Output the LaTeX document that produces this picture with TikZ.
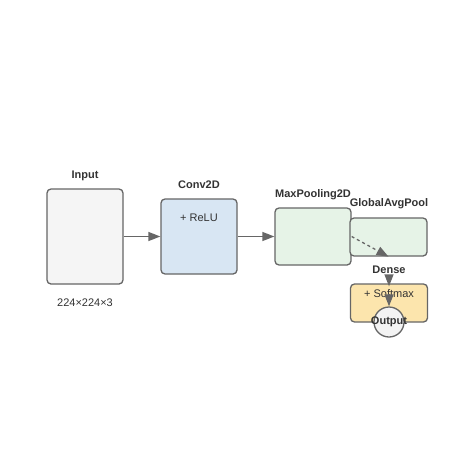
\documentclass[tikz,border=0pt]{standalone}
\usepackage{fontspec}
\setmainfont{Liberation Sans}
\usepackage{tikz}
\usetikzlibrary{arrows.meta}

\definecolor{edge}{HTML}{666666}
\definecolor{inputfill}{HTML}{F5F5F5}
\definecolor{convfill}{HTML}{D8E6F3}
\definecolor{poolfill}{HTML}{E6F3E7}
\definecolor{densefill}{HTML}{FCE5AD}
\definecolor{outfill}{HTML}{F3F3F3}

\tikzset{
  layer/.style={draw=edge, line width=1.3pt, rounded corners=4pt, inner sep=0pt},
  title/.style={font=\fontsize{11}{13}\selectfont\bfseries, text=black!80},
  txt/.style={font=\fontsize{11}{13}\selectfont, text=black!80},
  arr/.style={draw=edge, line width=1.3pt, -{Triangle[length=12pt,width=9pt]}}
}

\begin{document}
\begin{tikzpicture}[x=1pt, y=-1pt]
      \useasboundingbox[fill=white] (0,0) rectangle (474,474);

       % input
      \node[layer, fill=inputfill, minimum width=76pt, minimum height=95pt] (input) at (85,236.5) {};
      \node[title] (inlbl) at (85,176) {Input};
      \node[txt] (shape) at (85,303) {224×224×3};

       % conv
      \node[layer, fill=convfill, minimum width=76pt, minimum height=75pt] (conv) at (199,236.5) {};
      \node[title] (convlbl) at (199,185) {Conv2D};
      \node[txt] (relu) at (199,218) {+ ReLU};

       % pooling
      \node[layer, fill=poolfill, minimum width=76pt, minimum height=57pt] (pool) at (313,236.5) {};
      \node[title] (poollbl) at (313,195) {MaxPooling2D};
      \node[layer, fill=poolfill, minimum width=77pt, minimum height=38pt] (gap) at (388.5,237) {};
      \node[title] (gaplbl) at (389,204) {GlobalAvgPool};

       % dense
      \node[layer, fill=densefill, minimum width=77pt, minimum height=38pt] (dense) at (389,303) {};
      \node[title] (denselbl) at (389,270) {Dense};
      \node[txt] (smx) at (389,294) {+ Softmax};

       % output
      \node[layer, circle, fill=outfill, minimum size=30pt] (out) at (389,322) {};
      \node[title] (outlbl) at (389,322) {Output};

       % arrows
      \draw[arr] (input.east) -- (conv.west);
      \draw[arr] (conv.east) -- (pool.west);
      \draw[arr, dashed] (pool.east) -- (gap.south);
      \draw[arr, shorten >=-3pt] (denselbl.south) -- (dense.north);
      \draw[arr] (smx.center) -- (out.north);
    \end{tikzpicture}
\end{document}
